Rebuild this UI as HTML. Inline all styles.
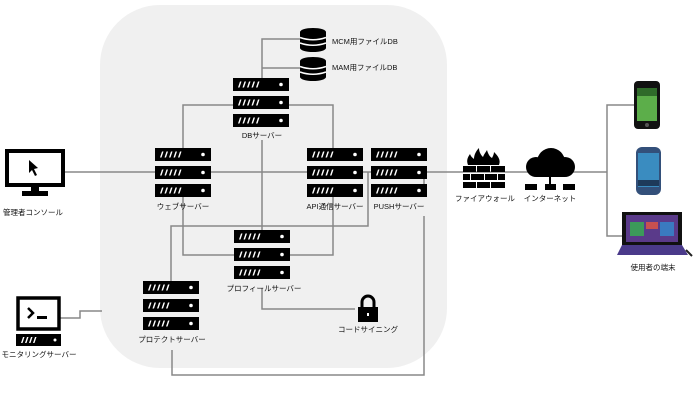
<!DOCTYPE html>
<html><head><meta charset="utf-8"><style>
html,body{margin:0;padding:0;background:#fff}
svg{display:block}
text{font-family:"Liberation Sans","Noto Sans CJK JP",sans-serif;font-size:7.5px;fill:#111}
</style></head><body>
<svg width="700" height="410" viewBox="0 0 700 410" xmlns="http://www.w3.org/2000/svg">
<defs>
<g id="u">
<rect x="0" y="0" width="56" height="13" fill="#000"/>
<g fill="#fff">
<polygon points="5,9.5 7,3.5 8.5,3.5 6.5,9.5"/>
<polygon points="9.5,9.5 11.5,3.5 13,3.5 11,9.5"/>
<polygon points="14,9.5 16,3.5 17.5,3.5 15.5,9.5"/>
<polygon points="18.5,9.5 20.5,3.5 22,3.5 20,9.5"/>
<polygon points="23,9.5 25,3.5 26.5,3.5 24.5,9.5"/>
<circle cx="48" cy="6.5" r="1.8"/>
</g>
</g>
<g id="srv"><use href="#u"/><use href="#u" y="18"/><use href="#u" y="36"/></g>
<g id="cyl">
<ellipse cx="13" cy="4" rx="13" ry="4" fill="#000"/>
<rect x="0" y="4" width="26" height="16" fill="#000"/>
<ellipse cx="13" cy="20" rx="13" ry="4" fill="#000"/>
<path d="M0 9.5 Q13 14 26 9.5" stroke="#fff" stroke-width="1.6" fill="none"/>
<path d="M0 15 Q13 19.5 26 15" stroke="#fff" stroke-width="1.6" fill="none"/>
</g>
</defs>
<rect x="100" y="5" width="347" height="363" rx="60" fill="#f0f0f0"/>
<g stroke="#888" stroke-width="1.5" fill="none">
<path d="M65 172 H607"/>
<path d="M262 78 V39 H300 M262 68 H300"/>
<path d="M183 148 V105 H333 V148"/>
<path d="M262 140 V230"/>
<path d="M183 196 V255 H333 V196"/>
<path d="M171 281 V226 H368 V172"/>
<path d="M424 216 V375 H172 V350"/>
<path d="M424 172 V196"/>
<path d="M262 288 V309 H355"/>
<path d="M60 318 H80 V311 H102"/>
<path d="M635 105 H607 V236 H635"/>
</g>
<use href="#srv" x="233" y="78"/>
<use href="#srv" x="155" y="148"/>
<use href="#srv" x="307" y="148"/>
<use href="#srv" x="371" y="148"/>
<use href="#srv" x="234" y="230"/>
<use href="#srv" x="143" y="281"/>
<use href="#cyl" x="300" y="28"/>
<use href="#cyl" x="300" y="57"/>
<text x="332" y="44">MCM用ファイルDB</text>
<text x="332" y="70">MAM用ファイルDB</text>
<text x="262" y="138" text-anchor="middle">DBサーバー</text>
<text x="183" y="209" text-anchor="middle">ウェブサーバー</text>
<text x="335" y="209" text-anchor="middle">API通信サーバー</text>
<text x="399" y="209" text-anchor="middle">PUSHサーバー</text>
<text x="264" y="291" text-anchor="middle">プロフィールサーバー</text>
<text x="172" y="342" text-anchor="middle">プロテクトサーバー</text>
<path d="M362 308 V302 a6 6 0 0 1 12 0 V308" stroke="#000" stroke-width="3" fill="none"/>
<rect x="358" y="307" width="20" height="15" fill="#000"/>
<rect x="367" y="313" width="2" height="3" fill="#fff"/>
<text x="368" y="332" text-anchor="middle">コードサイニング</text>
<rect x="7" y="151" width="56" height="34" fill="#fff" stroke="#000" stroke-width="4"/>
<polygon points="29,160 29,173 32,170 35,176 37,175 34,169 38,168" fill="#000"/>
<rect x="31" y="187" width="8" height="4" fill="#000"/>
<rect x="22" y="191" width="26" height="5" fill="#000"/>
<text x="33" y="215" text-anchor="middle">管理者コンソール</text>
<rect x="18" y="298" width="41" height="31" fill="#fff" stroke="#000" stroke-width="3.5"/>
<path d="M28 308 L33 313 L28 318" stroke="#000" stroke-width="2.5" fill="none"/>
<rect x="37" y="316" width="10" height="3" fill="#000"/>
<rect x="16" y="334" width="45" height="12" fill="#000"/>
<g fill="#fff"><polygon points="21,343 23,337 24.5,337 22.5,343"/><polygon points="25,343 27,337 28.5,337 26.5,343"/><polygon points="29,343 31,337 32.5,337 30.5,343"/><polygon points="33,343 35,337 36.5,337 34.5,343"/><circle cx="55" cy="340" r="1.5"/></g>
<text x="39" y="357" text-anchor="middle">モニタリングサーバー</text>
<path d="M468 165 C466 160 468 157 470 154 C471 157 473 158 474 159 C474 155 476 151 479 148 C479 152 481 155 483 157 C484 154 486 152 487 150 C488 154 490 157 492 158 C493 156 494 154 494 152 C498 156 501 160 499 165 Z" fill="#000"/>
<g fill="#000">
<rect x="463" y="166" width="13" height="6"/><rect x="477" y="166" width="13" height="6"/><rect x="491" y="166" width="14" height="6"/>
<rect x="463" y="174" width="7" height="6"/><rect x="471" y="174" width="13" height="6"/><rect x="485" y="174" width="12" height="6"/><rect x="498" y="174" width="7" height="6"/>
<rect x="463" y="182" width="13" height="6"/><rect x="477" y="182" width="13" height="6"/><rect x="491" y="182" width="14" height="6"/>
</g>
<text x="485" y="201" text-anchor="middle">ファイアウォール</text>
<g fill="#000">
<circle cx="551" cy="162" r="14"/><circle cx="536" cy="167" r="10"/><circle cx="565" cy="167" r="10"/>
<rect x="536" y="165" width="29" height="12"/>
<rect x="549" y="176" width="2" height="8"/>
<rect x="525" y="184" width="12" height="6"/><rect x="545" y="184" width="11" height="6"/><rect x="563" y="184" width="12" height="6"/>
</g>
<text x="550" y="201" text-anchor="middle">インターネット</text>
<rect x="634" y="81" width="26" height="48" rx="4" fill="#111"/>
<rect x="637" y="88" width="20" height="33" fill="#5cae4a"/>
<rect x="637" y="88" width="20" height="8" fill="#2f6b2a"/>
<circle cx="647" cy="125" r="2" fill="#555"/>
<rect x="636" y="147" width="25" height="48" rx="6" fill="#33507a"/>
<rect x="638" y="153" width="21" height="34" fill="#3a8cc0"/>
<rect x="638" y="180" width="21" height="6" fill="#1e3a5a"/>
<rect x="622" y="212" width="60" height="33" fill="#111"/>
<rect x="626" y="215" width="52" height="27" fill="#5a3a8a"/>
<rect x="630" y="222" width="14" height="14" fill="#3c9a5a"/>
<rect x="646" y="222" width="12" height="7" fill="#c85050"/>
<rect x="660" y="222" width="14" height="14" fill="#3a7ac0"/>
<polygon points="622,245 682,245 688,255 617,255" fill="#4a3a8a"/>
<path d="M686 250 L692 256" stroke="#222" stroke-width="2"/>
<text x="653" y="270" text-anchor="middle">使用者の端末</text>
</svg>
</body></html>
